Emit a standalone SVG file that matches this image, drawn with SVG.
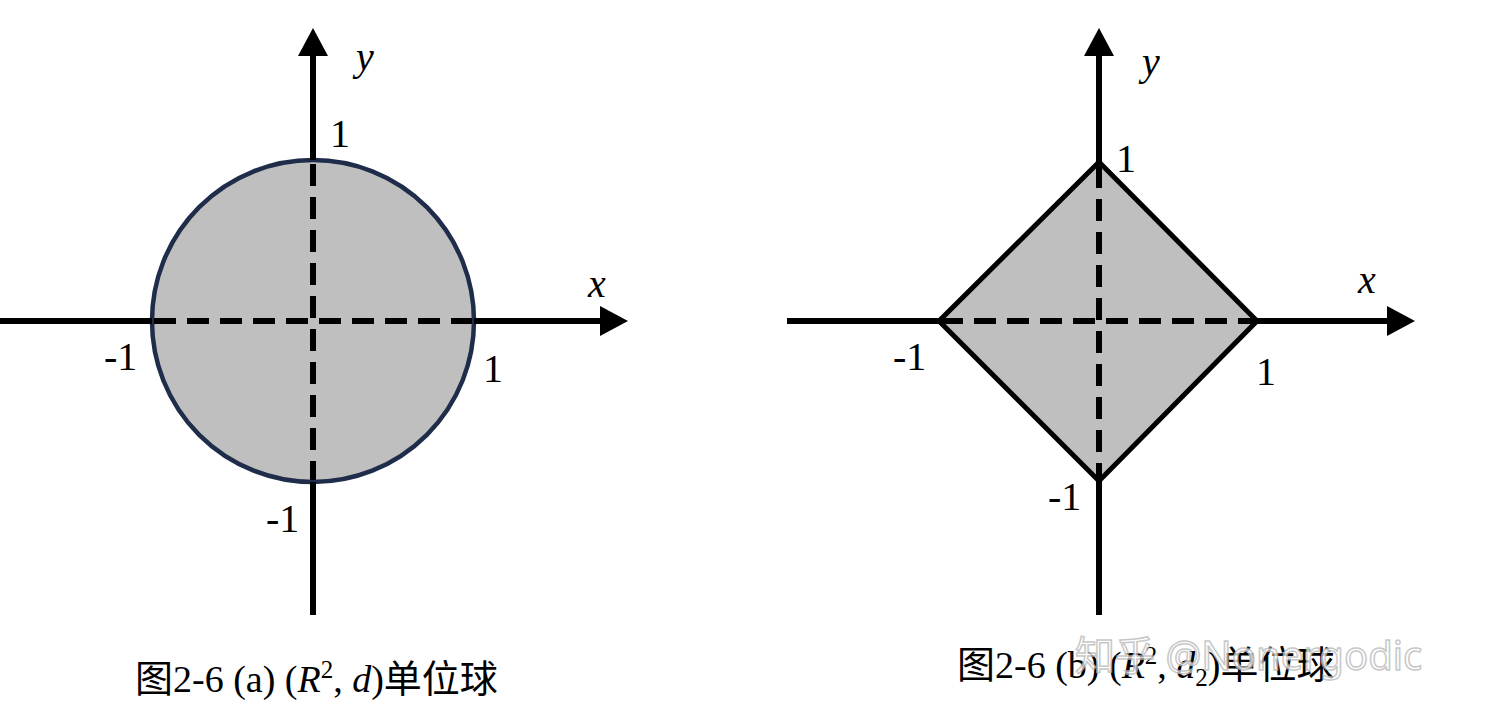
<svg xmlns="http://www.w3.org/2000/svg" width="1494" height="724" viewBox="0 0 1494 724">
<style>
.ax{stroke:#000;stroke-width:6;fill:none}
.da{stroke:#000;stroke-width:6;stroke-dasharray:22,11;fill:none}
.ah{fill:#000}
.t{font-family:"Liberation Serif",serif;font-size:40px;fill:#000}
.i{font-style:italic}
.c{font-family:"Liberation Serif","Noto Sans CJK SC",serif;font-size:38px;fill:#000}
.w{font-family:"Noto Sans","Noto Sans CJK SC",sans-serif;font-size:40px;fill:#fff;stroke:#bbb;stroke-width:1.5;opacity:0.8}
</style>
<rect width="1494" height="724" fill="#fff"/>
<g id="fig-a">
<circle cx="313" cy="321" r="161" fill="#bfbfbf" stroke="#1f2d4a" stroke-width="4.5"/>
<line class="ax" x1="0" y1="321" x2="152" y2="321"/>
<line class="ax" x1="474" y1="321" x2="602" y2="321"/>
<polygon class="ah" points="628,321 600,306 600,336"/>
<line class="ax" x1="313" y1="615" x2="313" y2="482"/>
<line class="ax" x1="313" y1="160" x2="313" y2="50"/>
<polygon class="ah" points="313,28 298,56 328,56"/>
<line class="da" x1="154" y1="321" x2="472" y2="321"/>
<line class="da" x1="313" y1="164" x2="313" y2="480"/>
<text class="t i" x="356" y="70">y</text>
<text class="t" x="330" y="147">1</text>
<text class="t i" x="588" y="297">x</text>
<text class="t" x="104" y="370">-1</text>
<text class="t" x="483" y="382">1</text>
<text class="t" x="266" y="532">-1</text>
<text class="c" x="135" y="692">图2-6 (a) (<tspan font-style="italic">R</tspan><tspan font-size="25" dy="-14">2</tspan><tspan dy="14">, </tspan><tspan font-style="italic">d</tspan>)单位球</text>
</g>
<g id="fig-b">
<polygon points="939,321 1099,162 1257,321 1099,481" fill="#bfbfbf" stroke="#000" stroke-width="5"/>
<line class="ax" x1="787" y1="321" x2="939" y2="321"/>
<line class="ax" x1="1257" y1="321" x2="1390" y2="321"/>
<polygon class="ah" points="1415,321 1387,306 1387,336"/>
<line class="ax" x1="1099" y1="615" x2="1099" y2="481"/>
<line class="ax" x1="1099" y1="162" x2="1099" y2="50"/>
<polygon class="ah" points="1099,28 1084,56 1114,56"/>
<line class="da" x1="941" y1="321" x2="1255" y2="321"/>
<line class="da" x1="1099" y1="166" x2="1099" y2="479"/>
<text class="t i" x="1142" y="75">y</text>
<text class="t" x="1116" y="172">1</text>
<text class="t i" x="1358" y="293">x</text>
<text class="t" x="893" y="370">-1</text>
<text class="t" x="1256" y="385">1</text>
<text class="t" x="1048" y="510">-1</text>
<text class="c" x="957" y="678">图2-6 (b) (<tspan font-style="italic">R</tspan><tspan font-size="25" dy="-14">2</tspan><tspan dy="14">, </tspan><tspan font-style="italic">d</tspan><tspan font-size="25" dy="8">2</tspan><tspan dy="-8">)单位球</tspan></text>
</g>
<text class="w" x="1075" y="670">知乎 @Nonergodic</text>
</svg>
